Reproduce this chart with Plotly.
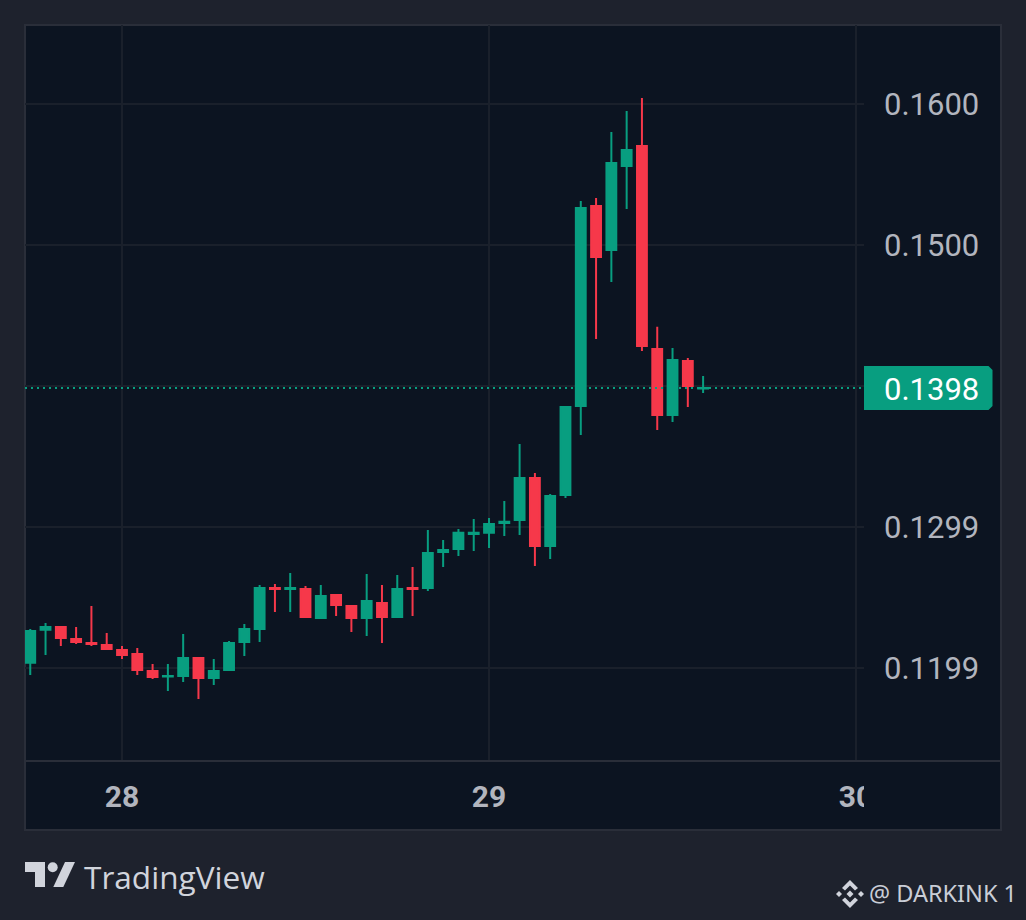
import plotly.graph_objects as go
import pandas as pd

start_time = "2025-01-27 18:00"
opens = [.12036,.12270,.12291,.12206,.12177,.12163,.12128,.12099,.11979,.11940,.11943,.12071,.11929,.11986,.12184,.12277,.12567,.12560,
         .12560,.12355,.12518,.12440,.12355,.12461,.12362,.12567,.12567,.12823,.12844,.12950,.12958,.13028,.13050,.13348,.12865,.13227,
         .13858,.15277,.14965,.15560,.15702,.14262,.13794,.14177,.13982]
highs = [.12277,.12319,.12298,.12291,.12440,.12248,.12156,.12142,.12028,.12028,.12241,.12078,.12064,.12191,.12312,.12589,.12596,.12674,
         .12582,.12589,.12525,.12447,.12667,.12589,.12660,.12716,.12979,.12908,.12986,.13057,.13064,.13184,.13589,.13383,.13234,.13858,
         .15312,.15333,.15801,.15950,.16043,.14419,.14270,.14199,.14071]
lows  = [.11950,.12092,.12156,.12170,.12156,.12128,.12064,.11950,.11922,.11837,.11901,.11780,.11879,.11979,.12085,.12184,.12397,.12397,
         .12355,.12348,.12369,.12255,.12227,.12177,.12355,.12369,.12546,.12716,.12794,.12830,.12851,.12936,.12943,.12723,.12773,.13206,
         .13653,.14333,.14738,.15255,.14248,.13688,.13745,.13851,.13950]
closes = [.12262,.12291,.12213,.12184,.12170,.12135,.12092,.11986,.11936,.11943,.12071,.11929,.11979,.12177,.12277,.12567,.12560,.12567,
          .12362,.12511,.12447,.12355,.12475,.12362,.12560,.12560,.12816,.12837,.12958,.12958,.13021,.13036,.13348,.12865,.13220,.13851,
          .15262,.14915,.15582,.15674,.14284,.13794,.14184,.14000,.13986]
price_ticks = [0.12, 0.13, 0.14, 0.15, 0.16]
price_labels = ["0.1199", "0.1299", "", "0.1500", "0.1600"]
day_ticks = ["2025-01-28", "2025-01-29", "2025-01-30"]
day_labels = ["28", "29", "30"]
last_price = 0.13986
last_label = "0.1398"

W, H = 1026, 920
L, R, T, B = 25, 864, 25, 761
PANEL = "#0c1421"; OUTER = "#1e222d"; BORDER = "#2a2e39"; GRID = "#1a202b"
GREEN = "#089e80"; RED = "#f6384a"; AXIS = "#b2b5be"

times = pd.date_range(start_time, periods=len(opens), freq="h")

def px(x): return (x - L) / (R - L)
def py(y): return (B - y) / (B - T)

shapes = []
def rect(x0, y0, x1, y1, fill, layer="below", line=None, lw=0):
    shapes.append(dict(type="rect", xref="paper", yref="paper", x0=px(x0), x1=px(x1), y0=py(y0), y1=py(y1),
                       fillcolor=fill, line=dict(color=line or fill, width=lw), layer=layer))
def poly(points, fill):
    d = "M " + " L ".join(f"{px(a):.5f},{py(b):.5f}" for a, b in points) + " Z"
    shapes.append(dict(type="path", xref="paper", yref="paper", path=d, fillcolor=fill, line=dict(width=0), layer="above"))

rect(25, 25, 1001, 830, PANEL, line=BORDER, lw=2)
# cover that clips the date label at the price-axis edge
rect(864, 762, 1000, 829, PANEL, layer="above")
# time-axis separator
rect(25, 760, 1001, 762, BORDER, layer="above")
# last price line
shapes.append(dict(type="line", xref="paper", yref="y", x0=0, x1=1, y0=last_price, y1=last_price,
                   line=dict(color=GREEN, width=2, dash="2px,4px"), layer="above"))
# last price tag with rounded right corners
r = 4
poly([(864, 366), (992.5 - r, 366), (992.5, 366 + r), (992.5, 410 - r), (992.5 - r, 410), (864, 410)], GREEN)

# TradingView mark
LOGO = "#d1d4dc"
poly([(25, 862), (45, 862), (45, 887), (35, 887), (35, 872), (25, 872)], LOGO)
poly([(65, 862), (75, 862), (63.3, 887), (53.3, 887)], LOGO)
shapes.append(dict(type="circle", xref="paper", yref="paper", x0=px(47.7), x1=px(57.7), y0=py(862.3), y1=py(872.3),
                   fillcolor=LOGO, line=dict(width=0), layer="above"))
# Binance style mark
BN = "#d1d4dc"; cx, cy = 850, 894
poly([(cx, cy - 14), (cx + 8, cy - 6), (cx + 5, cy - 3.5), (cx, cy - 8.5), (cx - 5, cy - 3.5), (cx - 8, cy - 6)], BN)
poly([(cx, cy + 14), (cx + 8, cy + 6), (cx + 5, cy + 3.5), (cx, cy + 8.5), (cx - 5, cy + 3.5), (cx - 8, cy + 6)], BN)
poly([(cx, cy - 3.5), (cx + 3.5, cy), (cx, cy + 3.5), (cx - 3.5, cy)], BN)
poly([(cx - 11, cy - 3), (cx - 8, cy), (cx - 11, cy + 3), (cx - 14, cy)], BN)
poly([(cx + 11, cy - 3), (cx + 14, cy), (cx + 11, cy + 3), (cx + 8, cy)], BN)

fig = go.Figure(go.Candlestick(
    x=times, open=opens, high=highs, low=lows, close=closes,
    increasing=dict(line=dict(color=GREEN, width=2), fillcolor=GREEN),
    decreasing=dict(line=dict(color=RED, width=2), fillcolor=RED),
    whiskerwidth=0, hoverinfo="none",
))

def note(text, x, y, size, color, anchor="left", family="Roboto"):
    return dict(text=text, x=px(x), y=py(y), xref="paper", yref="paper", showarrow=False, xanchor=anchor,
                yanchor="middle", font=dict(family=family, size=size, color=color))

fig.update_layout(
    width=W, height=H, autosize=False, showlegend=False,
    margin=dict(l=L, r=W - R, t=T, b=H - B, pad=0),
    paper_bgcolor=OUTER, plot_bgcolor=PANEL, boxgap=0.08, shapes=shapes,
    xaxis=dict(type="date", range=["2025-01-27 17:39:25", "2025-01-30 00:31:14"], tickmode="array",
               tickvals=day_ticks, ticktext=day_labels, showgrid=True, gridcolor=GRID, gridwidth=2,
               zeroline=False, showline=False, ticks="", ticklabelstandoff=15,
               tickfont=dict(family="Roboto", size=30, color=AXIS, weight=700),
               rangeslider=dict(visible=False), fixedrange=True),
    yaxis=dict(side="right", range=[.11340, .16560], tickmode="array", tickvals=price_ticks, ticktext=price_labels,
               showgrid=True, gridcolor=GRID, gridwidth=2, zeroline=False, showline=False, ticks="",
               ticklabelstandoff=19, tickfont=dict(family="Roboto", size=31, color=AXIS), fixedrange=True),
    annotations=[
        note(last_label, 981, 389, 31, "#ffffff", "right"),
        note("TradingView", 82, 876, 31.6, "#d1d4dc", family="Open Sans"),
        note("@ DARKINK 1", 867, 893, 23.5, "#c9cdd6", family="Noto Sans"),
    ],
)
fig.write_html("out.html", config=dict(displayModeBar=False, staticPlot=True),
               post_script="document.body.style.margin='0';")
